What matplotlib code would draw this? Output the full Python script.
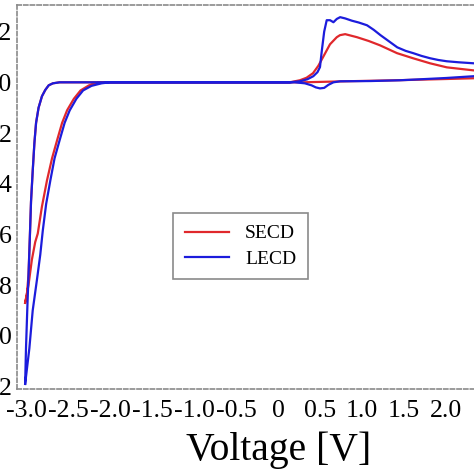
import matplotlib
matplotlib.use("Agg")
import matplotlib.pyplot as plt

# LECD loop: up the inner branch, over the oxidation peak, back along the lower branch
lecd_v = [-3.01, -2.96, -2.92, -2.87, -2.83, -2.80, -2.76, -2.71, -2.66, -2.60, -2.54, -2.48,
          -2.40, -2.32, -2.22, -2.10, -2.00, -1.00, 0.00, 0.14, 0.26, 0.35, 0.42, 0.47, 0.50,
          0.52, 0.55, 0.58, 0.62, 0.66, 0.70, 0.74, 0.80, 0.88, 0.96, 1.06, 1.14, 1.22, 1.32,
          1.42, 1.52, 1.61, 1.71, 1.81, 1.91, 2.01, 2.15, 2.33, 2.60,
          2.60, 2.33, 2.00, 1.70, 1.45, 1.10, 0.74, 0.66, 0.60, 0.55, 0.50, 0.45, 0.40, 0.32, 0.20,
          -1.00, -2.60, -2.68, -2.73, -2.77, -2.81, -2.85, -2.88, -2.90, -2.92, -2.94, -2.955,
          -2.97, -2.985, -3.00, -3.01]
lecd_i = [-1.19, -1.05, -0.90, -0.78, -0.68, -0.585, -0.48, -0.387, -0.30, -0.229, -0.16, -0.111,
          -0.065, -0.032, -0.014, -0.004, 0.0, 0.0, 0.0, 0.0, 0.004, 0.012, 0.024, 0.04, 0.06,
          0.12, 0.20, 0.245, 0.245, 0.237, 0.25, 0.257, 0.252, 0.243, 0.236, 0.225, 0.207, 0.186, 0.162,
          0.138, 0.124, 0.115, 0.104, 0.095, 0.088, 0.083, 0.079, 0.075, 0.07,
          0.03, 0.024, 0.017, 0.012, 0.008, 0.005, 0.004, 0.0, -0.01, -0.022, -0.024, -0.02, -0.012, -0.004, 0.0,
          0.0, 0.0, -0.004, -0.012, -0.03, -0.055, -0.10, -0.16, -0.24, -0.35, -0.47, -0.62,
          -0.76, -0.90, -1.05, -1.19]

# SECD loop
secd_v = [-3.01, -2.97, -2.93, -2.89, -2.86, -2.81, -2.75, -2.69, -2.63, -2.57, -2.51, -2.43,
          -2.35, -2.25, -2.12, -1.00, 0.00, 0.14, 0.26, 0.34, 0.417, 0.48, 0.536, 0.619, 0.70,
          0.738, 0.80, 0.94, 1.08, 1.214, 1.417, 1.607, 1.81, 2.01, 2.33, 2.60,
          2.60, 2.33, 2.00, 1.40, 0.80, 0.30, -1.00, -2.60, -2.68, -2.73, -2.77, -2.81, -2.85, -2.88,
          -2.90, -2.92, -2.94, -2.955, -2.97, -2.99, -3.01]
secd_i = [-0.87, -0.80, -0.70, -0.63, -0.597, -0.49, -0.387, -0.30, -0.229, -0.16, -0.11, -0.065,
          -0.032, -0.012, 0.0, 0.0, 0.0, 0.0, 0.008, 0.018, 0.036, 0.065, 0.099, 0.150, 0.178,
          0.186, 0.190, 0.178, 0.163, 0.146, 0.115, 0.095, 0.075, 0.059, 0.047, 0.04,
          0.02, 0.016, 0.013, 0.008, 0.004, 0.0, 0.0, 0.0, -0.004, -0.012, -0.03, -0.055, -0.10, -0.16,
          -0.24, -0.35, -0.47, -0.62, -0.76, -0.84, -0.87]

xticks = [-3.0, -2.5, -2.0, -1.5, -1.0, -0.5, 0.0, 0.5, 1.0, 1.5, 2.0]
xticklabels = ["-3.0", "-2.5", "-2.0", "-1.5", "-1.0", "-0.5", "0", "0.5", "1.0", "1.5", "2.0"]
yticks = [-1.2, -1.0, -0.8, -0.6, -0.4, -0.2, 0.0, 0.2]
yticklabels = ["-1.2", "-1.0", "-0.8", "-0.6", "-0.4", "-0.2", "0.0", "0.2"]

plt.rcParams["font.family"] = ["Liberation Serif", "DejaVu Serif"]
plt.rcParams["axes.unicode_minus"] = False

fig = plt.figure(figsize=(4.74, 4.74), dpi=100)
# the original panel runs past the right edge of the picture
ax = fig.add_axes([17 / 474, 85 / 474, 524 / 474, 384 / 474])

ax.plot(secd_v, secd_i, color="#e0282c", lw=1.6, label="SECD")
ax.plot(lecd_v, lecd_i, color="#1c1cdc", lw=1.6, label="LECD")

ax.set_xlim(-3.107, -3.107 + 524 / 84)
ax.set_ylim(-1.21, 0.305)
ax.set_xticks(xticks)
ax.set_xticklabels(xticklabels)
ax.set_yticks(yticks)
ax.set_yticklabels(yticklabels)
ax.tick_params(axis="x", direction="in", length=0, labelsize=18.5, pad=8)
ax.tick_params(axis="y", direction="in", length=0, labelsize=18.5, pad=4)
for side in ("left", "top", "bottom", "right"):
    ax.spines[side].set_linestyle((0, (2.5, 1.5)))
    ax.spines[side].set_color("#8a8a8a")
    ax.spines[side].set_linewidth(1.2)

ax.set_xlabel("Voltage [V]", fontsize=28.5, labelpad=7)

leg = ax.legend(loc="upper left", bbox_to_anchor=(156 / 524, 0.458), borderaxespad=0,
                fontsize=14, handlelength=2.3, fancybox=False, framealpha=1,
                edgecolor="#8a8a8a", borderpad=0.6, labelspacing=0.4)
leg.get_frame().set_linewidth(1.2)

fig.savefig("out.png", dpi=100)
